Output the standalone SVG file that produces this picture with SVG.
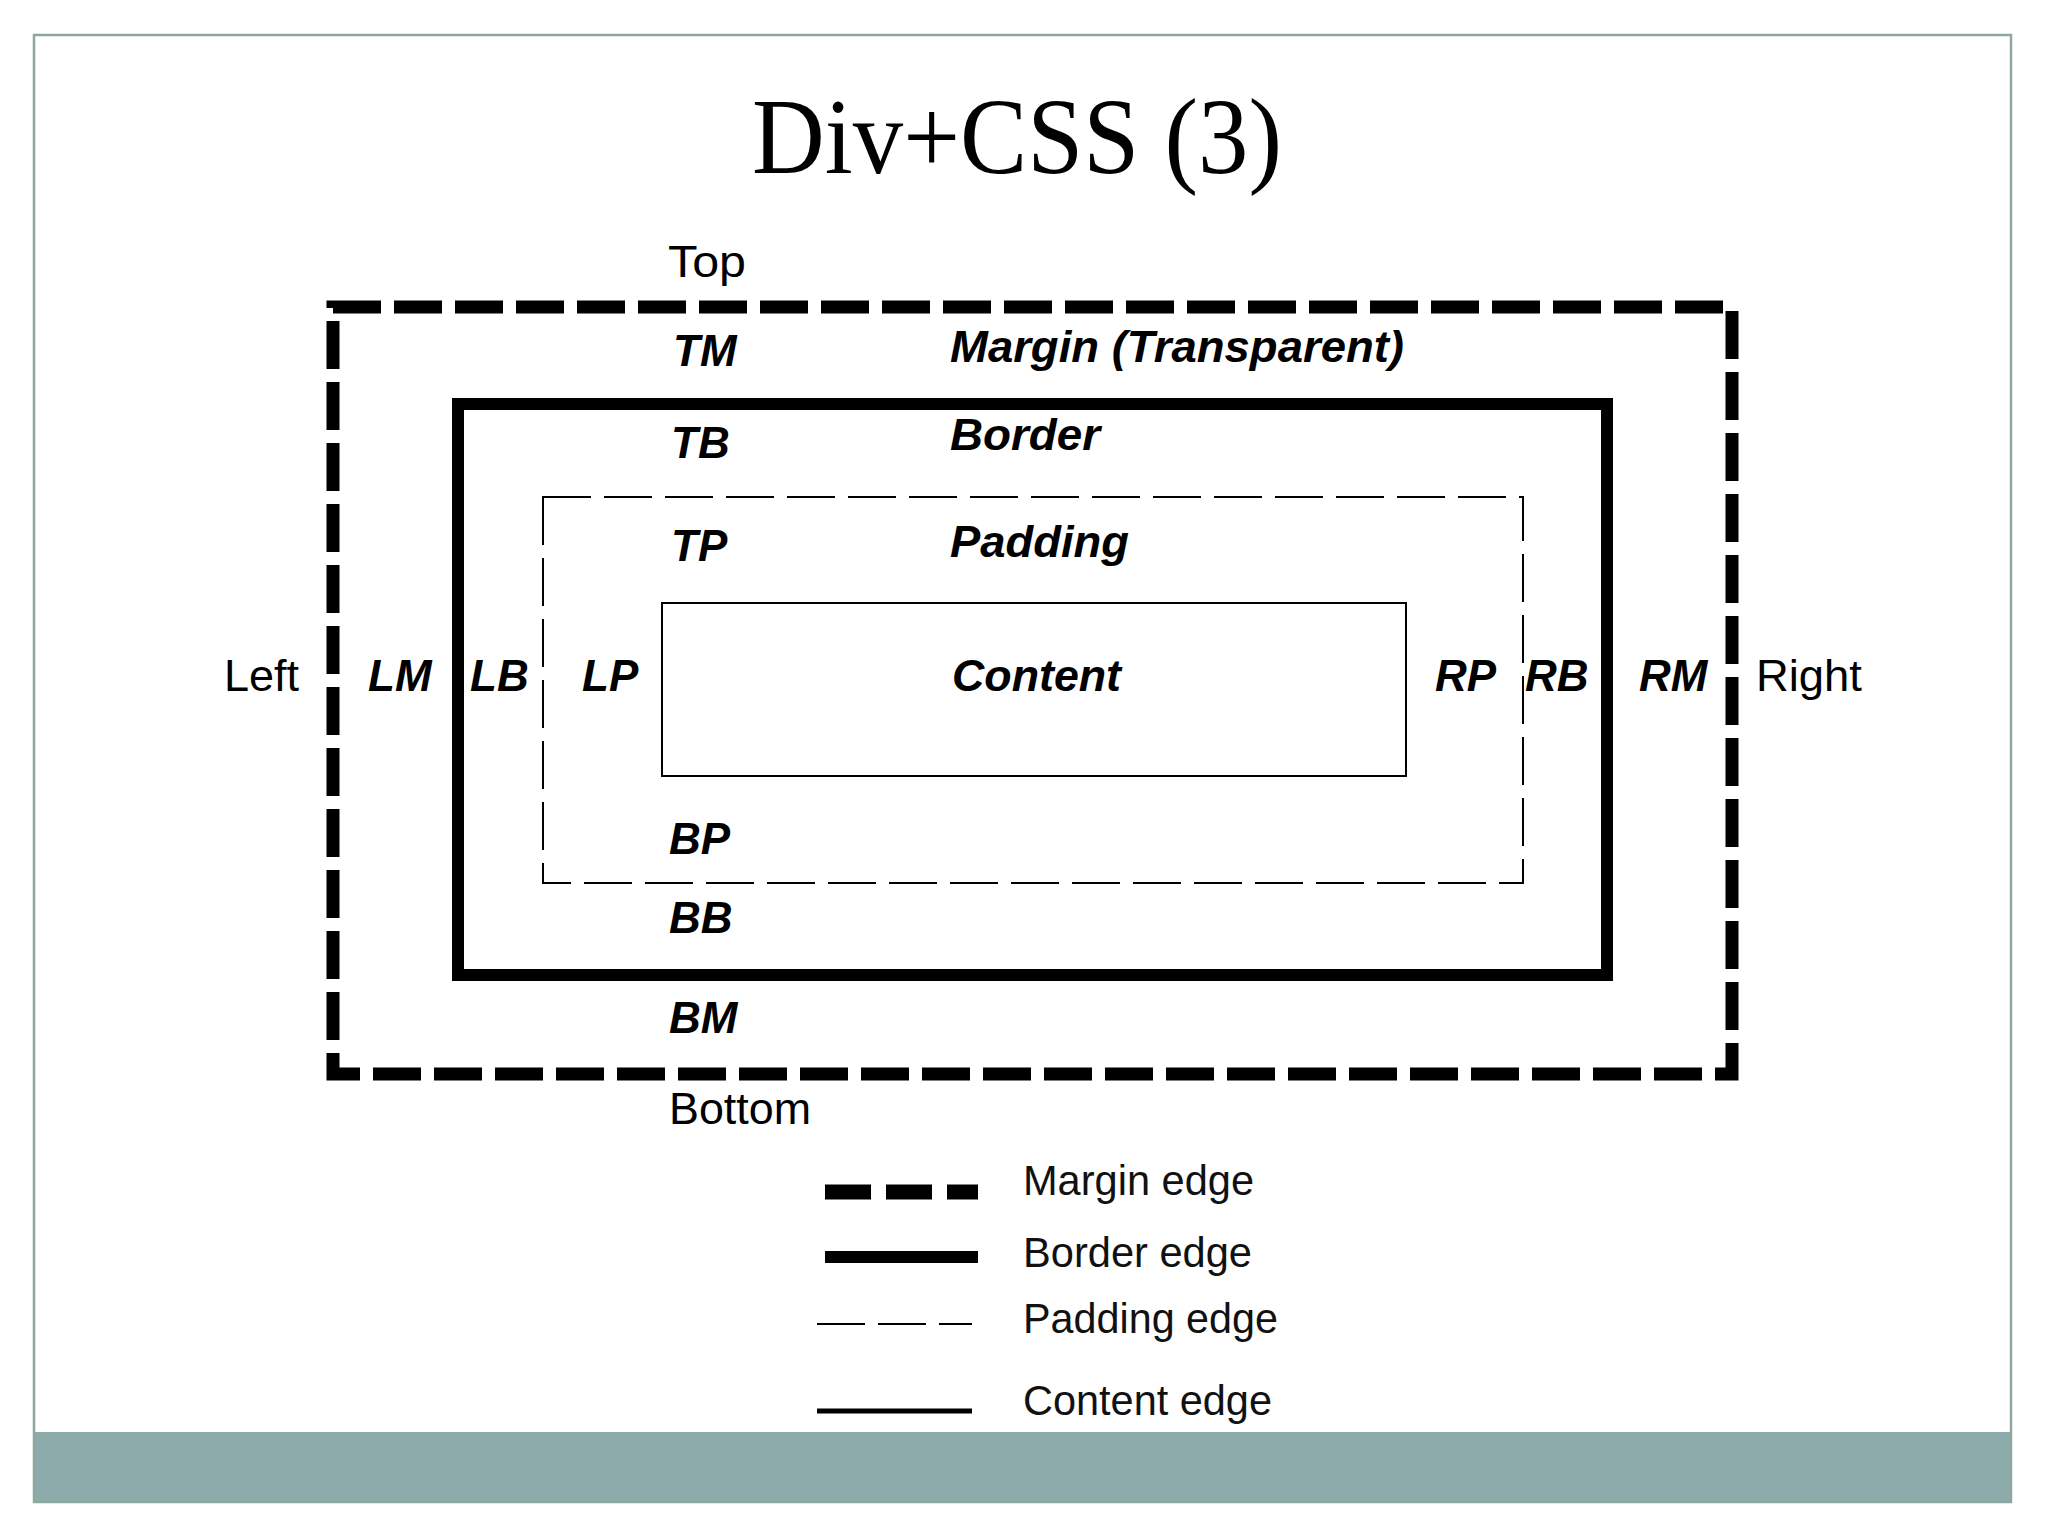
<svg xmlns="http://www.w3.org/2000/svg" width="2048" height="1536" viewBox="0 0 2048 1536">
<style>
.lbl{font-family:"Liberation Sans",Arial,sans-serif;font-weight:bold;font-style:italic;font-size:44px;fill:#000}
.side{font-family:"Liberation Sans",Arial,sans-serif;font-size:45px;fill:#000}
.leg{font-family:"Liberation Sans",Arial,sans-serif;font-size:42px;fill:#111}
.margin{fill:none;stroke:#000;stroke-width:13;stroke-dasharray:48 13;stroke-linejoin:miter}
.border{fill:none;stroke:#000;stroke-width:12}
.padding{fill:none;stroke:#000;stroke-width:2;stroke-dasharray:48 13}
.content{fill:none;stroke:#000;stroke-width:2}
</style>
<rect width="2048" height="1536" fill="#fff"/>
<g id="slide-frame">
<rect x="34" y="1432" width="1977" height="70" fill="#8eabab"/>
<rect x="34" y="35" width="1977" height="1467" fill="none" stroke="#8fa89f" stroke-width="2.5"/>
</g>
<g id="title">
<text x="1017" y="173" text-anchor="middle" font-family="'Liberation Serif','Times New Roman',serif" font-size="108" textLength="530" lengthAdjust="spacingAndGlyphs">Div+CSS (3)</text>
</g>
<g id="margin-box">
<path class="margin" d="M333 307 H1732 V1074 H333 Z"/>
</g>
<g id="border-box">
<rect class="border" x="458" y="404" width="1149" height="571"/>
</g>
<g id="padding-box">
<path class="padding" d="M543 497 H1523 V883 H543 Z"/>
</g>
<g id="content-box">
<rect class="content" x="662" y="603" width="744" height="173"/>
</g>
<g id="labels">
<text class="side" x="668" y="277" font-size="46" textLength="78" lengthAdjust="spacingAndGlyphs">Top</text>
<text class="lbl" x="673" y="366">TM</text>
<text class="lbl" x="950" y="362" font-size="45" textLength="454" lengthAdjust="spacingAndGlyphs">Margin (Transparent)</text>
<text class="lbl" x="671" y="458">TB</text>
<text class="lbl" x="950" y="450" textLength="150" lengthAdjust="spacingAndGlyphs">Border</text>
<text class="lbl" x="671" y="561">TP</text>
<text class="lbl" x="950" y="557" textLength="179" lengthAdjust="spacingAndGlyphs">Padding</text>
<text class="side" x="224" y="691" font-size="44">Left</text>
<text class="lbl" x="368" y="691">LM</text>
<text class="lbl" x="470" y="691">LB</text>
<text class="lbl" x="582" y="691">LP</text>
<text class="lbl" x="952" y="691" textLength="169" lengthAdjust="spacingAndGlyphs">Content</text>
<text class="lbl" x="1435" y="691">RP</text>
<text class="lbl" x="1525" y="691">RB</text>
<text class="lbl" x="1639" y="691">RM</text>
<text class="side" x="1756" y="691" textLength="106" lengthAdjust="spacingAndGlyphs">Right</text>
<text class="lbl" x="669" y="854">BP</text>
<text class="lbl" x="669" y="933">BB</text>
<text class="lbl" x="669" y="1033">BM</text>
<text class="side" x="669" y="1124" font-size="46" textLength="142" lengthAdjust="spacingAndGlyphs">Bottom</text>
</g>
<g id="legend">
<line x1="825" y1="1192" x2="978" y2="1192" stroke="#000" stroke-width="15" stroke-dasharray="46 15"/>
<text class="leg" x="1023" y="1195" textLength="231" lengthAdjust="spacingAndGlyphs">Margin edge</text>
<line x1="825" y1="1257" x2="978" y2="1257" stroke="#000" stroke-width="12"/>
<text class="leg" x="1023" y="1267" textLength="229" lengthAdjust="spacingAndGlyphs">Border edge</text>
<line x1="817" y1="1324" x2="972" y2="1324" stroke="#000" stroke-width="2" stroke-dasharray="48 13"/>
<text class="leg" x="1023" y="1333" textLength="255" lengthAdjust="spacingAndGlyphs">Padding edge</text>
<line x1="817" y1="1411" x2="972" y2="1411" stroke="#000" stroke-width="5"/>
<text class="leg" x="1023" y="1415" textLength="249" lengthAdjust="spacingAndGlyphs">Content edge</text>
</g>
</svg>
